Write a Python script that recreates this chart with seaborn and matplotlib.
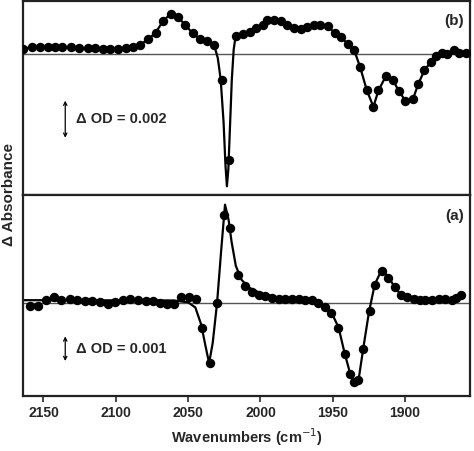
import numpy as np
import pandas as pd
import matplotlib
matplotlib.use("Agg")
import matplotlib.pyplot as plt
import seaborn as sns

sns.set_theme(style="ticks")
plt.rcParams['font.family'] = ['Liberation Sans', 'DejaVu Sans']

# Panel (b) data points (wavenumber, mOD)
b_wn = [2164.0, 2157.8, 2152.5, 2147.2, 2142.2, 2136.9, 2131.1, 2125.1, 2119.4, 2114.1, 2108.8, 2103.7,
        2098.7, 2093.1, 2088.1, 2083.0, 2077.7, 2072.4, 2067.1, 2062.1, 2057.0, 2052.2, 2046.9, 2042.0,
        2037.0, 2032.1, 2026.8, 2021.8, 2017.2, 2012.3, 2007.5, 2002.9, 1998.4, 1995.5, 1990.9, 1985.9,
        1981.7, 1976.7, 1972.1, 1968.0, 1963.3, 1958.7, 1953.6, 1948.8, 1944.4, 1939.8, 1935.2, 1931.1,
        1926.5, 1921.9, 1918.4, 1913.3, 1908.5, 1904.4, 1899.8, 1894.7, 1890.8, 1886.7, 1882.3, 1878.6,
        1874.4, 1870.8, 1866.2, 1862.5, 1857.9]
b_od = [0.23, 0.31, 0.31, 0.31, 0.31, 0.31, 0.31, 0.28, 0.26, 0.26, 0.20, 0.20,
        0.20, 0.26, 0.31, 0.43, 0.67, 0.99, 1.55, 1.86, 1.71, 1.36, 0.96, 0.70,
        0.59, 0.42, -1.24, -4.96, 0.81, 0.91, 1.01, 1.21, 1.36, 1.58, 1.60, 1.52,
        1.32, 1.21, 1.16, 1.27, 1.36, 1.36, 1.29, 0.98, 0.78, 0.47, 0.16, -0.62,
        -1.71, -2.48, -1.71, -1.05, -1.22, -1.74, -2.20, -2.14, -1.40, -0.78, -0.39, -0.12,
        0.03, -0.03, 0.19, 0.05, 0.03]
# Panel (b) fitted curve
bf_wn = b_wn[:26] + [2029.5, 2027.5, 2025.5, 2024.2, 2023.2, 2022.2, 2021.0, 2019.8, 2018.5] + b_wn[28:]
bf_od = b_od[:26] + [-0.2, -1.2, -3.2, -5.2, -6.2, -5.4, -3.3, -1.2, 0.2] + b_od[28:]

# Panel (a) data points
a_wn = [2159.4, 2153.7, 2148.4, 2142.9, 2137.6, 2132.0, 2126.7, 2121.5, 2116.2, 2110.9, 2105.6, 2100.3,
        2095.0, 2090.0, 2084.9, 2079.4, 2074.3, 2069.3, 2064.7, 2060.1, 2054.8, 2049.5, 2044.3, 2040.4,
        2035.1, 2030.1, 2025.5, 2020.9, 2015.8, 2011.0, 2005.9, 2001.3, 1996.7, 1992.1, 1987.5, 1982.9,
        1978.3, 1973.7, 1969.1, 1964.5, 1959.9, 1955.2, 1951.1, 1946.5, 1941.9, 1937.9, 1935.0, 1932.9,
        1928.8, 1924.6, 1920.7, 1915.7, 1911.5, 1906.9, 1902.8, 1898.8, 1894.2, 1889.6, 1886.2, 1881.6,
        1876.9, 1872.4, 1867.8, 1864.8, 1861.3]
a_od = [-0.11, -0.11, 0.11, 0.20, 0.11, 0.13, 0.11, 0.05, 0.05, 0.03, -0.02, 0.03,
        0.08, 0.13, 0.11, 0.05, 0.05, 0.0, -0.05, -0.02, 0.20, 0.20, 0.13, -0.82,
        -1.96, 0.0, 2.85, 2.45, 0.92, 0.54, 0.35, 0.27, 0.22, 0.16, 0.13, 0.13,
        0.13, 0.13, 0.11, 0.09, 0.0, -0.13, -0.33, -0.82, -1.65, -2.30, -2.59, -2.52,
        -1.49, -0.27, 0.60, 1.03, 0.82, 0.52, 0.26, 0.20, 0.13, 0.09, 0.09, 0.11,
        0.14, 0.13, 0.11, 0.16, 0.26]
# Panel (a) fitted curve
af_wn = [2164, 2060, 2050, 2045, 2041, 2038, 2035.5, 2033, 2030, 2027, 2024.5, 2022, 2020, 2017, 2013,
         2008, 2000, 1990, 1980, 1970, 1962, 1955, 1950, 1946, 1942, 1938, 1935, 1932, 1929, 1925,
         1921, 1917, 1915, 1911, 1907, 1903, 1898, 1890, 1880, 1870, 1861]
af_od = [0.09, 0.08, 0.02, -0.15, -0.7, -1.4, -1.96, -1.3, 0.0, 1.8, 3.2, 2.7, 2.0, 1.2, 0.75,
         0.5, 0.32, 0.2, 0.14, 0.08, -0.02, -0.15, -0.4, -0.8, -1.6, -2.3, -2.66, -2.45, -1.5, -0.3,
         0.6, 1.0, 1.05, 0.8, 0.5, 0.27, 0.15, 0.1, 0.1, 0.1, 0.2]

xticks = [2150, 2100, 2050, 2000, 1950, 1900]

fig = plt.figure(figsize=(4.74, 4.51), dpi=100)
axb = fig.add_axes([0.049, 0.568, 0.943, 0.43])
axa = fig.add_axes([0.049, 0.122, 0.943, 0.446], sharex=axb)

def panel(ax, wn, od, fwn, fod, lab, scale, ylim, arr):
    ax.axhline(0, color='#555555', lw=1.0, zorder=1)
    sns.lineplot(x=fwn, y=fod, ax=ax, color='black', lw=1.6, sort=False, zorder=2)
    sns.scatterplot(x=wn, y=od, ax=ax, color='black', s=46, edgecolor='black', linewidth=0, zorder=3)
    ax.set_ylim(*ylim)
    ax.set_yticks([])
    for s in ax.spines.values():
        s.set_linewidth(1.6)
        s.set_color('#222222')
    ax.text(0.985, 0.93, lab, transform=ax.transAxes, ha='right', va='top', fontsize=11, fontweight='bold')
    ax.annotate('', xy=(0.094, arr[0]), xytext=(0.094, arr[1]), xycoords='axes fraction',
                arrowprops=dict(arrowstyle='<->', lw=0.9, color='black', mutation_scale=6))
    ax.text(0.118, (arr[0] + arr[1]) / 2, scale, transform=ax.transAxes, ha='left', va='center',
            fontsize=10.5, fontweight='bold')

panel(axb, b_wn, b_od, bf_wn, bf_od, '(b)', 'Δ OD = 0.002', (-6.6, 2.47), (0.50, 0.28))
panel(axa, a_wn, a_od, af_wn, af_od, '(a)', 'Δ OD = 0.001', (-3.03, 3.52), (0.31, 0.16))

axb.tick_params(axis='x', bottom=False, labelbottom=False)
axa.set_xlim(2164, 1855)
axa.set_xticks(xticks)
axa.set_xticklabels([str(t) for t in xticks], fontweight='bold', fontsize=10)
axa.tick_params(axis='x', direction='out', length=4, width=1.2)
axa.set_xlabel('Wavenumbers (cm$^{-1}$)', fontweight='bold', fontsize=10.5)
fig.text(0.018, 0.568, 'Δ Absorbance', rotation=90, ha='center', va='center', fontweight='bold', fontsize=11)

fig.savefig('out.png', dpi=100)
